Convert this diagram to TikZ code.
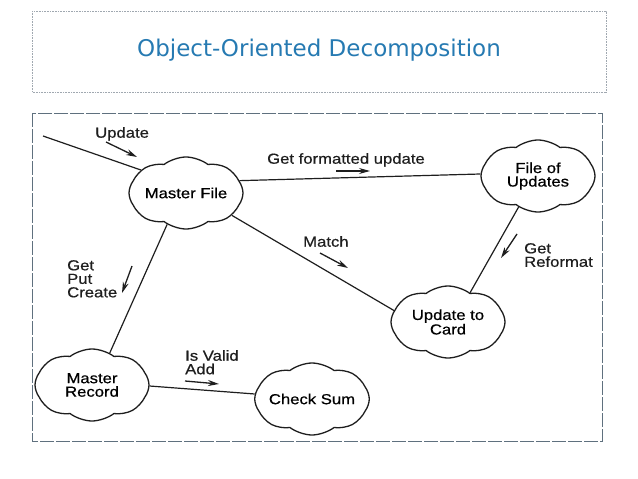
\documentclass[tikz,border=0pt]{standalone}
\usepackage{fontspec}
\usetikzlibrary{arrows.meta,shapes.symbols}
\newfontfamily\scanfont[FakeStretch=1.15,FakeBold=0.6]{Liberation Sans}
\newfontfamily\titlefont{DejaVu Sans}
\definecolor{titleblue}{RGB}{38,122,178}
\definecolor{framegray}{RGB}{95,112,126}
\definecolor{dotgray}{RGB}{160,168,176}
\definecolor{ink}{RGB}{30,30,30}

\begin{document}
\begin{tikzpicture}[x=1pt,y=-1pt,font=\scanfont\fontsize{14.5}{13.5}\selectfont,
  blob/.style={cloud,cloud puffs=8,cloud puff arc=75,cloud ignores aspect,draw=ink,line width=1.3pt,minimum width=114pt,minimum height=72pt,align=center,inner sep=0pt},
  wire/.style={draw=ink,line width=1.2pt},
  tip/.style={-{Stealth[length=11pt,width=6pt]},line width=1.3pt,ink},
  lbl/.style={anchor=north west,inner sep=0pt,align=left,text=ink}]
 \useasboundingbox (0,0) rectangle (638,479);
 \draw[dotgray,line width=.8pt,dash pattern=on .8pt off .8pt] (32,11) rectangle (606,92);
 \node[font=\titlefont\fontsize{23}{28}\selectfont,text=titleblue] (title) at (319,50) {Object-Oriented Decomposition};
 \draw[framegray,line width=.9pt,dash pattern=on 14pt off 2pt] (32,113) rectangle (602,441);
 \node[blob] (mf) at (186,193) {Master File};
 \node[blob] (fu) at (538,176) {File of\\Updates};
 \node[blob] (uc) at (448,322) {Update to\\Card};
 \node[blob] (mr) at (92,385) {Master\\Record};
 \node[blob] (cs) at (312,399) {Check Sum};
 \coordinate (src) at (43,136);
 \draw[wire] (src) -- (mf.153) (mf.13) -- (fu.178) (mf.-26) -- (uc.168) (mf.-121) -- (mr.61) (fu.-122) -- (uc.53) (mr.-1) -- (cs.175);
 \node[lbl] (upd) at (95,127) {Update};
 \node[lbl] (gfu) at (267,153) {Get formatted update};
 \node[lbl] (mat) at (303,236) {Match};
 \node[lbl] (grf) at (524,243) {Get\\Reformat};
 \node[lbl] (gpc) at (67,260) {Get\\Put\\Create};
 \node[lbl] (iva) at (185,350) {Is Valid\\Add};
 \foreach \a/\b in {{(106,142)}/{(137,157)},{(336,171)}/{(370,171)},{(320,253)}/{(348,268)},{(517,234)}/{(501,258)},{(132,266)}/{(122,293)},{(185,381)}/{(219,384)}} \draw[tip] \a -- \b;
\end{tikzpicture}
\end{document}
